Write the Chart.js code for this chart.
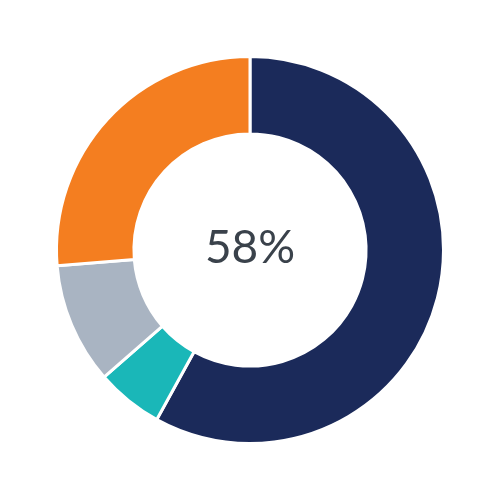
<!DOCTYPE html>
<html>
<head>
<meta charset="utf-8">
<script src="https://cdn.jsdelivr.net/npm/chart.js@4"></script>
<style>
  html, body { margin: 0; padding: 0; background: #fff; }
  #wrap { position: relative; width: 500px; height: 500px; }
  #center { position: absolute; left: 0; top: -5px; width: 500px; height: 500px;
            display: flex; align-items: center; justify-content: center;
            font-family: Lato, sans-serif; font-size: 46px; color: #3a424b; pointer-events: none; }
</style>
</head>
<body>
<div id="wrap">
  <canvas id="donut" width="500" height="500"></canvas>
  <div id="center"></div>
</div>
<script>
// segments, clockwise from 12 o'clock
const labels = ['Navy', 'Teal', 'Gray', 'Orange'];
const values = [58, 5.6, 10.1, 26.3];
const colors = ['#1b2a5a', '#1ab7b8', '#a9b4c2', '#f47e20'];
const centerLabel = '58%';

document.getElementById('center').textContent = centerLabel;

new Chart(document.getElementById('donut').getContext('2d'), {
  type: 'doughnut',
  data: {
    labels: labels,
    datasets: [{
      data: values,
      backgroundColor: colors,
      borderColor: '#ffffff',
      borderWidth: 3,
      hoverOffset: 0
    }]
  },
  options: {
    responsive: false,
    animation: false,
    cutout: '60%',
    layout: { padding: 55 },
    plugins: {
      legend: { display: false },
      tooltip: { enabled: false }
    }
  }
});
</script>
</body>
</html>
